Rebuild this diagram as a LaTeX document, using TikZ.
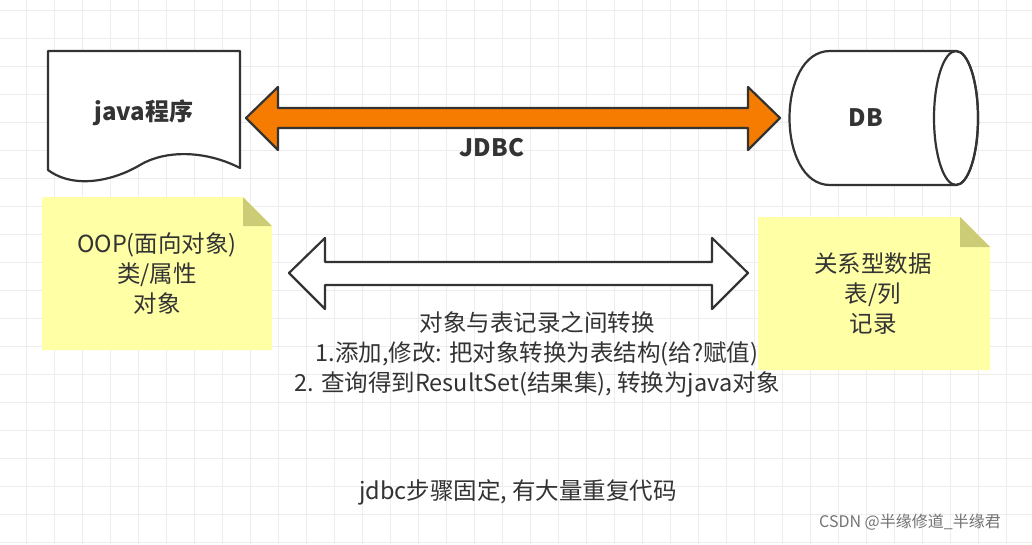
\documentclass[tikz,border=0pt]{standalone}
\usepackage{fontspec}
\setmainfont{Noto Sans CJK SC}
\usetikzlibrary{shapes.geometric}
\definecolor{notey}{HTML}{FFFFA6}
\definecolor{notefold}{HTML}{CCCC77}
\definecolor{orng}{HTML}{F57C00}
\definecolor{txt}{HTML}{333333}
\tikzset{
  shp/.style={draw=txt,line width=2.2pt,line join=round},
  lbl/.style={text=txt,font=\fontsize{23.5}{30}\selectfont,align=center},
  blbl/.style={text=txt,font=\fontsize{24}{26}\selectfont\bfseries,align=center},
}
\begin{document}
\begin{tikzpicture}[x=1pt,y=-1pt]
\useasboundingbox (0,0) rectangle (1032,544);
\fill[white] (0,0) rectangle (1032,544);
\foreach \i in {0,...,37} \draw[black!7,line width=0.8pt] (26+28*\i,0) -- (26+28*\i,544);
\foreach \j in {0,...,19} \draw[black!7,line width=0.8pt] (0,10+28*\j) -- (1032,10+28*\j);
% document shape
\draw[shp,fill=white] (48,51) -- (240,51) -- (240,168) .. controls (205,150) and (165,150) .. (140,165) .. controls (115,180) and (75,190) .. (48,170) -- cycle;
\node[blbl] (java) at (144,113) {java程序};
% DB cylinder
\draw[shp,fill=white] (830,51) -- (956,51) .. controls (968.1,51) and (978,81) .. (978,118) .. controls (978,155) and (968.1,185) .. (956,185) -- (830,185) .. controls (776,185) and (776,51) .. (830,51) -- cycle;
\draw[shp] (956,118) ellipse [x radius=22,y radius=67];
\node[blbl] (db) at (866,118) {DB};
% orange arrow
\draw[shp,fill=orng] (246,118) -- (278,87) -- (278,108) -- (748,108) -- (748,87) -- (780,118) -- (748,150) -- (748,128) -- (278,128) -- (278,150) -- cycle;
\node[blbl] (jdbc) at (492,148) {JDBC};
% notes
\fill[notey] (42,197) -- (243,197) -- (272,226) -- (272,350) -- (42,350) -- cycle;
\fill[notefold] (243,197) -- (272,226) -- (243,226) -- cycle;
\node[lbl] (oop) at (157,274) {OOP(面向对象)\\类/属性\\对象};
\fill[notey] (758,217) -- (960,217) -- (990,247) -- (990,370) -- (758,370) -- cycle;
\fill[notefold] (960,217) -- (990,247) -- (960,247) -- cycle;
\node[lbl] (rel) at (873,294) {关系型数据\\表/列\\记录};
% white arrow
\draw[shp,fill=white] (289,273) -- (325,238) -- (325,262) -- (712,262) -- (712,238) -- (748,273) -- (712,309) -- (712,285) -- (325,285) -- (325,309) -- cycle;
\node[lbl,text=black!80] (conv) at (537,354) {对象与表记录之间转换\\1.添加,修改: 把对象转换为表结构(给?赋值)\\2. 查询得到ResultSet(结果集), 转换为java对象};
\node[lbl,text=black!80] (fixed) at (518,492) {jdbc步骤固定, 有大量重复代码};
\node[text=black!55,font=\fontsize{16}{18}\selectfont] (wm) at (910,522) {CSDN @半缘修道\_半缘君};
\end{tikzpicture}
\end{document}
